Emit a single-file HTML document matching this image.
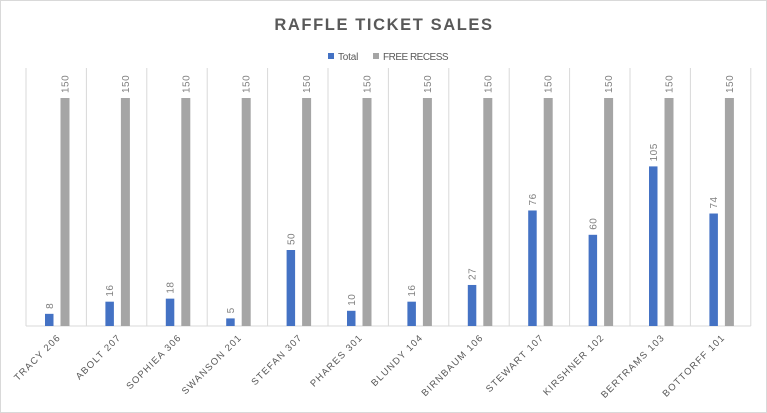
<!DOCTYPE html>
<html><head><meta charset="utf-8"><style>
html,body{margin:0;padding:0;background:#fff;}
svg{display:block;font-family:"Liberation Sans",sans-serif;}
</style></head><body>
<svg width="767" height="413" viewBox="0 0 767 413" xmlns="http://www.w3.org/2000/svg">
<rect x="0.5" y="0.5" width="766" height="412" fill="#fff" stroke="#d9d9d9"/>
<text x="384" y="30" text-anchor="middle" font-size="16.5" font-weight="bold" fill="#595959" letter-spacing="1.6">RAFFLE TICKET SALES</text>
<rect x="328" y="53" width="6" height="6" fill="#4472c4"/>
<text x="338" y="60" font-size="10" fill="#595959" letter-spacing="-0.2">Total</text>
<rect x="373" y="53" width="6" height="6" fill="#a5a5a5"/>
<text x="383" y="60" font-size="10" fill="#595959" letter-spacing="-0.5">FREE RECESS</text>
<g id="g"></g>
</svg>
<script>
var names=["TRACY 206","ABOLT 207","SOPHIEA 306","SWANSON 201","STEFAN 307","PHARES 301","BLUNDY 104","BIRNBAUM 106","STEWART 107","KIRSHNER 102","BERTRAMS 103","BOTTORFF 101"];
var vals=[8,16,18,5,50,10,16,27,76,60,105,74];
var g=document.getElementById("g"),s="";
var x0=26,w=60.4,base=326,k=228/150;
for(var i=0;i<=12;i++){var x=(x0+i*w).toFixed(1);s+='<line x1="'+x+'" y1="68" x2="'+x+'" y2="'+base+'" stroke="#d9d9d9"/>';}
s+='<line x1="'+x0+'" y1="'+base+'" x2="'+(x0+12*w)+'" y2="'+base+'" stroke="#d9d9d9"/>';
for(var i=0;i<12;i++){
 var c=x0+i*w;
 var h=vals[i]*k, bx=c+19, gx=c+34.5;
 s+='<rect x="'+bx+'" y="'+(base-h)+'" width="8.5" height="'+h+'" fill="#4472c4"/>';
 s+='<rect x="'+gx+'" y="'+(base-228)+'" width="9" height="228" fill="#a5a5a5"/>';
 s+='<text transform="translate('+(bx+7.8)+','+(base-h-5)+') rotate(-90)" font-size="10" fill="#7f7f7f" letter-spacing="0.5">'+vals[i]+'</text>';
 s+='<text transform="translate('+(gx+8)+','+(base-233)+') rotate(-90)" font-size="10" fill="#7f7f7f" letter-spacing="0.5">150</text>';
 s+='<text transform="translate('+(c+w/2+5)+',338) rotate(-45)" text-anchor="end" font-size="9.5" fill="#595959" letter-spacing="1.2">'+names[i]+'</text>';
}
g.innerHTML=s;
</script>
</body></html>
